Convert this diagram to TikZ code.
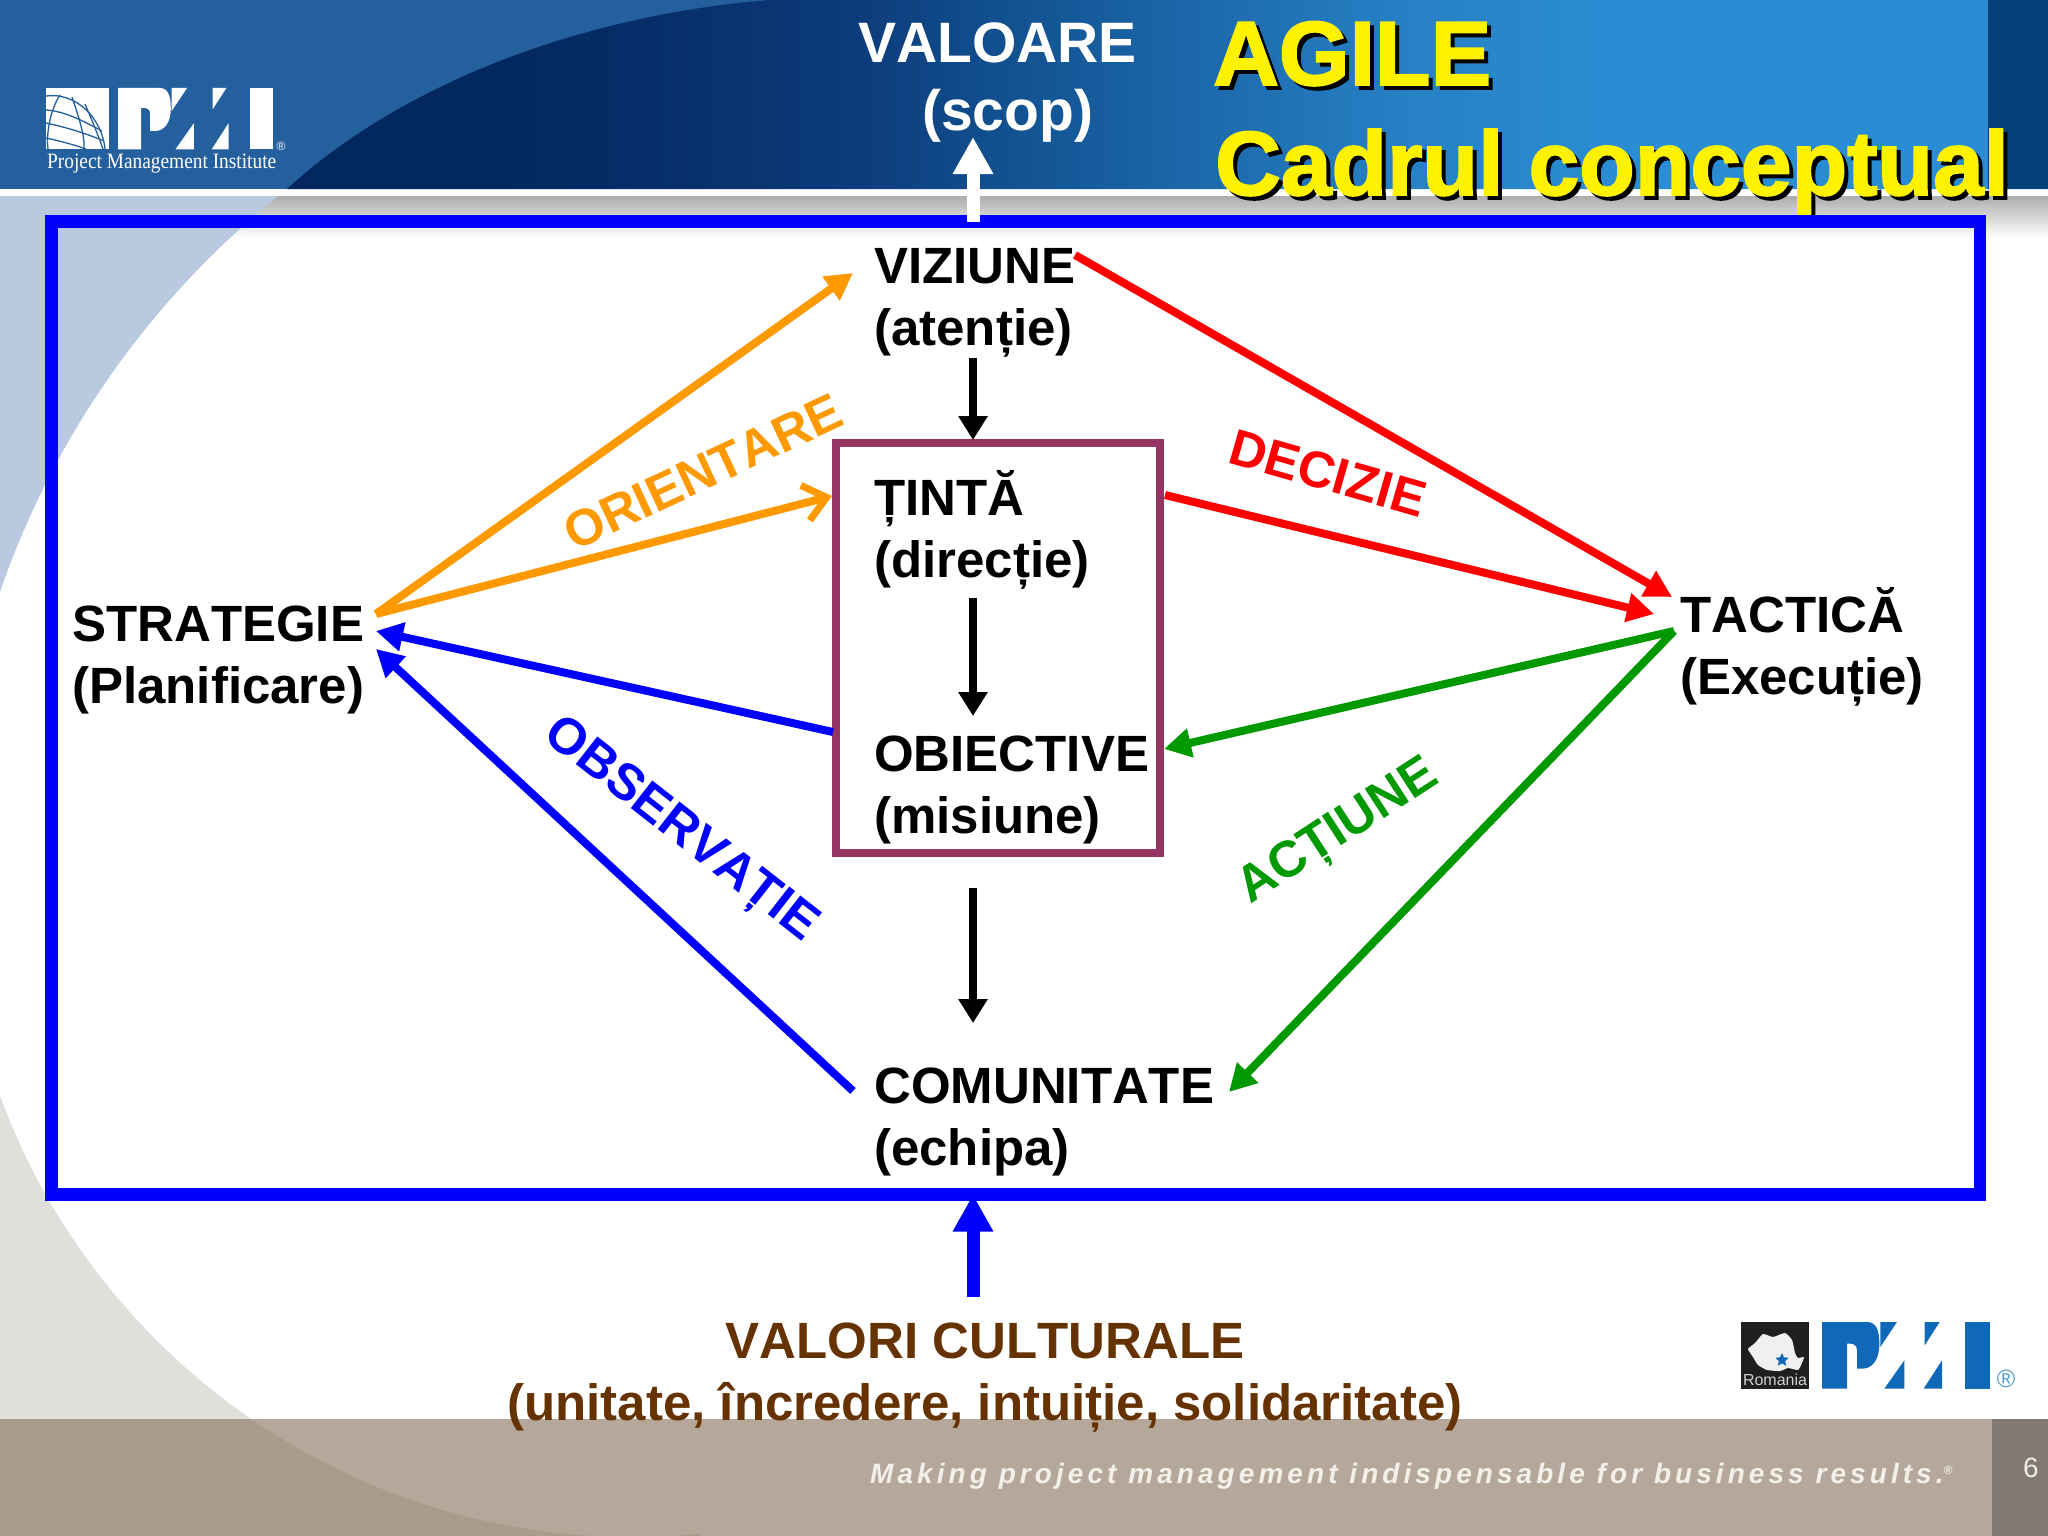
\documentclass[tikz,border=0pt]{standalone}
\usepackage{fontspec}
\setmainfont[Kerning=Off]{Liberation Sans}
\newfontfamily\condserif[FakeStretch=0.88]{Liberation Serif}
\newfontfamily\tagfont[LetterSpace=14.5,Kerning=Off]{Liberation Sans}
\newfontfamily\titlefont[FakeBold=2,Kerning=Off]{Liberation Sans Bold}
\usetikzlibrary{arrows.meta,calc,shapes.geometric}
\definecolor{hdrblue}{HTML}{245F9E}
\definecolor{barblue}{HTML}{04407A}
\definecolor{lightblue}{HTML}{B8C9E0}
\definecolor{beige}{HTML}{E1DFDB}
\definecolor{footlight}{HTML}{B5A89A}
\definecolor{footdark}{HTML}{A99C8D}
\definecolor{pagebox}{HTML}{827A70}
\definecolor{boxplum}{HTML}{953563}
\definecolor{oran}{HTML}{FF9900}
\definecolor{gren}{HTML}{009900}
\definecolor{brwn}{HTML}{663300}
\definecolor{logoblue}{HTML}{0F68B8}
\definecolor{regblue}{HTML}{4A9AD4}
\definecolor{tagcol}{HTML}{F3F0EA}
\definecolor{hsa}{HTML}{02245A}
\definecolor{hsb}{HTML}{03285F}
\definecolor{hsc}{HTML}{08306C}
\definecolor{hsd}{HTML}{0D3C7C}
\definecolor{hse}{HTML}{11508F}
\definecolor{hsf}{HTML}{1A64A6}
\definecolor{hsg}{HTML}{2680C4}
\definecolor{hsh}{HTML}{2A8CD2}
\pgfdeclarehorizontalshading{hdrshade}{100bp}{
 color(0bp)=(hsa);
 color(37.2bp)=(hsb);
 color(42bp)=(hsc);
 color(46bp)=(hsd);
 color(49.4bp)=(hse);
 color(53.3bp)=(hsf);
 color(59.2bp)=(hsg);
 color(64bp)=(hsh);
 color(100bp)=(hsh)}
\newcommand{\pmimark}[1]{%
 \fill[#1] (0,0) -- (135,0) .. controls (160,0) and (172,20) .. (172,65)
   .. controls (172,115) and (150,140) .. (120,140) -- (105,140) -- (105,85)
   .. controls (105,70) and (95,65) .. (85,65) -- (75,65) -- (75,200) -- (0,200) -- cycle;
 \fill[#1] (175,0) -- (225,0) -- (175,75) -- cycle;
 \fill[#1] (187,200) -- (247,115) -- (247,200) -- cycle;
 \fill[#1] (308,0) -- (353,0) -- (308,70) -- cycle;
 \fill[#1] (305,200) -- (360,115) -- (360,200) -- cycle;
 \fill[#1] (430,0) -- (505,0) -- (505,200) -- (430,200) -- cycle;
}
\tikzset{
 x=1pt,y=-1pt,
 bigtext/.style={anchor=base west,align=left,inner sep=0pt,font=\fontsize{51}{62}\selectfont\bfseries,text=black},
 flowlabel/.style={anchor=center,inner sep=0pt,font=\fontsize{51}{62}\selectfont\bfseries},
 titletext/.style={anchor=base west,inner sep=0pt,font=\fontsize{91}{110}\selectfont\titlefont},
 arr/.style={line width=8pt,-{Triangle[length=27pt,width=28pt]}},
 thinarr/.style={line width=7.5pt,black,-{Triangle[length=24pt,width=28pt]}},
 fatarr/.style={line width=13pt,-{Triangle[length=37pt,width=38pt]}},
 openarr/.style={line width=8pt,-{Straight Barb[length=22pt,width=36pt,line width=7pt]}},
}
\begin{document}
\begin{tikzpicture}
\useasboundingbox (0,0) rectangle (2048,1536);
% ---- background
\fill[white] (0,0) rectangle (2048,1536);
\shade[top color=black!32,bottom color=white] (0,196) rectangle (2048,238);
\begin{scope}
 \clip (0,196) rectangle (300,600);
 \fill[lightblue,even odd rule] (-100,0) rectangle (1800,1800) (824,875) circle (871pt);
\end{scope}
\begin{scope}
 \clip (0,1000) rectangle (700,1419);
 \fill[beige,even odd rule] (-100,0) rectangle (1500,1700) (632,864) circle (673pt);
\end{scope}
\fill[footlight] (0,1419) rectangle (2048,1536);
\begin{scope}
 \clip (0,1419) rectangle (700,1536);
 \fill[footdark,even odd rule] (-100,0) rectangle (1500,1700) (632,864) circle (673pt);
\end{scope}
\fill[pagebox] (1992,1419) rectangle (2048,1536);
% ---- header
\fill[hdrblue] (0,0) rectangle (2048,189);
\begin{scope}
 \clip (287,189) .. controls (400,85) and (580,15) .. (770,0) -- (2048,0) -- (2048,189) -- cycle;
 \shade[shading=hdrshade] (0,0) rectangle (2048,189);
\end{scope}
\fill[barblue] (1988,0) rectangle (2048,189);
% ---- white PMI logo
\fill[white] (46,88) rectangle (109,149);
\begin{scope}[draw=hdrblue,line width=1.3pt]
 \draw (46,96) .. controls (76,92) and (102,118) .. (105,149);
 \draw (46,110) .. controls (65,111) and (85,122) .. (102,131);
 \draw (46,123) .. controls (65,127) and (85,133) .. (104,141);
 \draw (46,138) .. controls (60,141) and (75,145) .. (86,149);
 \draw (60,95) .. controls (50,110) and (46,135) .. (48,149);
 \draw (72,97) .. controls (78,115) and (85,135) .. (84,149);
 \draw (85,104) .. controls (92,120) and (98,135) .. (103,149);
\end{scope}
\begin{scope}[shift={(118,88)},scale=0.307]
 \pmimark{white}
\end{scope}
\node[inner sep=0pt,anchor=base west,text=white,font=\fontsize{22}{22}\selectfont\condserif] (pmitext) at (47,168) {Project Management Institute};
\node[inner sep=0pt,anchor=center,text=white,font=\fontsize{12}{12}\selectfont] (pmireg) at (281,146) {®};
% ---- blue PMI logo and Romania square
\fill[black!88] (1741,1322) rectangle (1809,1389);
\fill[white!94!black] plot[smooth cycle,tension=.3] coordinates {(1748,1349) (1755,1343) (1763,1334) (1773,1337) (1785,1333) (1792,1340) (1795,1353) (1798,1358) (1804,1357) (1802,1363) (1798,1370) (1788,1368) (1780,1371) (1767,1370) (1758,1365) (1753,1357)};
\node[star,star points=5,star point ratio=2.1,fill=logoblue,inner sep=0pt,minimum size=14pt] (romstar) at (1782,1360) {};
\node[inner sep=0pt,anchor=base,text=white!82!black,font=\fontsize{16}{16}\selectfont] (romtext) at (1775,1385) {Romania};
\begin{scope}[shift={(1822,1322)},scale=0.3333]
 \pmimark{logoblue}
\end{scope}
\node[inner sep=0pt,anchor=center,text=regblue,font=\fontsize{25}{25}\selectfont] (pmireg2) at (2006,1379) {®};
% ---- footer text
\node[inner sep=0pt,anchor=base west,text=tagcol,font=\fontsize{28}{28}\selectfont\tagfont\bfseries\itshape] (tagline) at (870,1483) {Making project management indispensable for business results.\raisebox{9pt}{\fontsize{12}{12}\selectfont ®}};
\node[inner sep=0pt,anchor=base,text=white!93!black,font=\fontsize{28}{28}\selectfont] (pagenum) at (2031,1477) {6};
% ---- title
\node[titletext,text=black] (agileS) at (1217,89) {AGILE};
\node[titletext,text=yellow] (agile) at (1213,85) {AGILE};
\node[titletext,text=black] (cadrulS) at (1219,199) {Cadrul conceptual};
\node[titletext,text=yellow] (cadrul) at (1215,195) {Cadrul conceptual};
% ---- frames
\node[draw=blue,line width=12.5pt,minimum width=1928.5pt,minimum height=973pt,inner sep=0pt,outer sep=0pt] (frame) at (1015.5,708) {};
\node[draw=boxplum,line width=8pt,minimum width=324pt,minimum height=410pt,inner sep=0pt,outer sep=0pt] (tintabox) at (998,648) {};
% ---- main labels (anchored on the baseline of their last line)
\node[bigtext] (viziune) at (874,345) {VIZIUNE\\(atenție)};
\node[bigtext] (tinta) at (874,577) {ȚINTĂ\\(direcție)};
\node[bigtext] (obiective) at (874,833) {OBIECTIVE\\(misiune)};
\node[bigtext] (comunitate) at (874,1165) {COMUNITATE\\(echipa)};
\node[bigtext] (strategie) at (72,703) {STRATEGIE\\(Planificare)};
\node[bigtext] (tactica) at (1680,694) {TACTICĂ\\(Execuție)};
\node[anchor=base west,align=left,inner sep=0pt,text=white,font=\fontsize{57}{68}\selectfont\bfseries] (valoare) at (858,131) {VALOARE\\\hspace*{64pt}(scop)};
\node[anchor=base,align=center,inner sep=0pt,text=brwn,font=\fontsize{51}{62}\selectfont\bfseries] (valori) at (985,1420) {VALORI CULTURALE\\(unitate, încredere, intuiție, solidaritate)};
% ---- flow labels
\node[flowlabel,text=oran,rotate=25] (orientare) at (703,472) {ORIENTARE};
\node[flowlabel,text=red,rotate=-16] (decizie) at (1328,473) {DECIZIE};
\node[flowlabel,text=blue,rotate=-38] (observatie) at (680,831) {OBSERVAȚIE};
\node[flowlabel,text=gren,rotate=33] (actiune) at (1339,833) {ACȚIUNE};
% ---- connectors
\draw[arr,oran] ($(strategie.base west)+(304,-89)$) -- ($(viziune.base west)+(-21,-72)$);
\draw[openarr,oran] ($(strategie.base west)+(304,-89)$) -- ($(tinta.base west)+(-42,-81)$);
\draw[arr,red] ($(viziune.base west)+(201,-90)$) -- ($(tactica.base west)+(-8,-97)$);
\draw[arr,red] ($(tinta.base west)+(291,-82)$) -- ($(tactica.base west)+(-26,-80)$);
\draw[arr,gren] ($(tactica.base west)+(-6,-63)$) -- ($(obiective.base west)+(290,-84)$);
\draw[arr,gren] ($(tactica.base west)+(-6,-63)$) -- ($(comunitate.base west)+(355,-73)$);
\draw[arr,blue] ($(obiective.base west)+(-41,-101)$) -- ($(strategie.base west)+(304,-72)$);
\draw[arr,blue] ($(comunitate.base west)+(-21,-74)$) -- ($(strategie.base west)+(304,-54)$);
\draw[thinarr] ($(viziune.base west)+(99,13)$) -- ($(tinta.base west)+(99,-137)$);
\draw[thinarr] ($(tinta.base west)+(99,21)$) -- ($(obiective.base west)+(99,-117)$);
\draw[thinarr] ($(obiective.base west)+(99,55)$) -- ($(comunitate.base west)+(99,-142)$);
\draw[fatarr,white] ($(viziune.base west)+(99,-123)$) -- ($(valoare.base west)+(115,6)$);
\draw[fatarr,blue] ($(valori.base)+(-12,-123)$) -- ($(frame.south)+(-42.5,0)$);
\end{tikzpicture}
\end{document}
